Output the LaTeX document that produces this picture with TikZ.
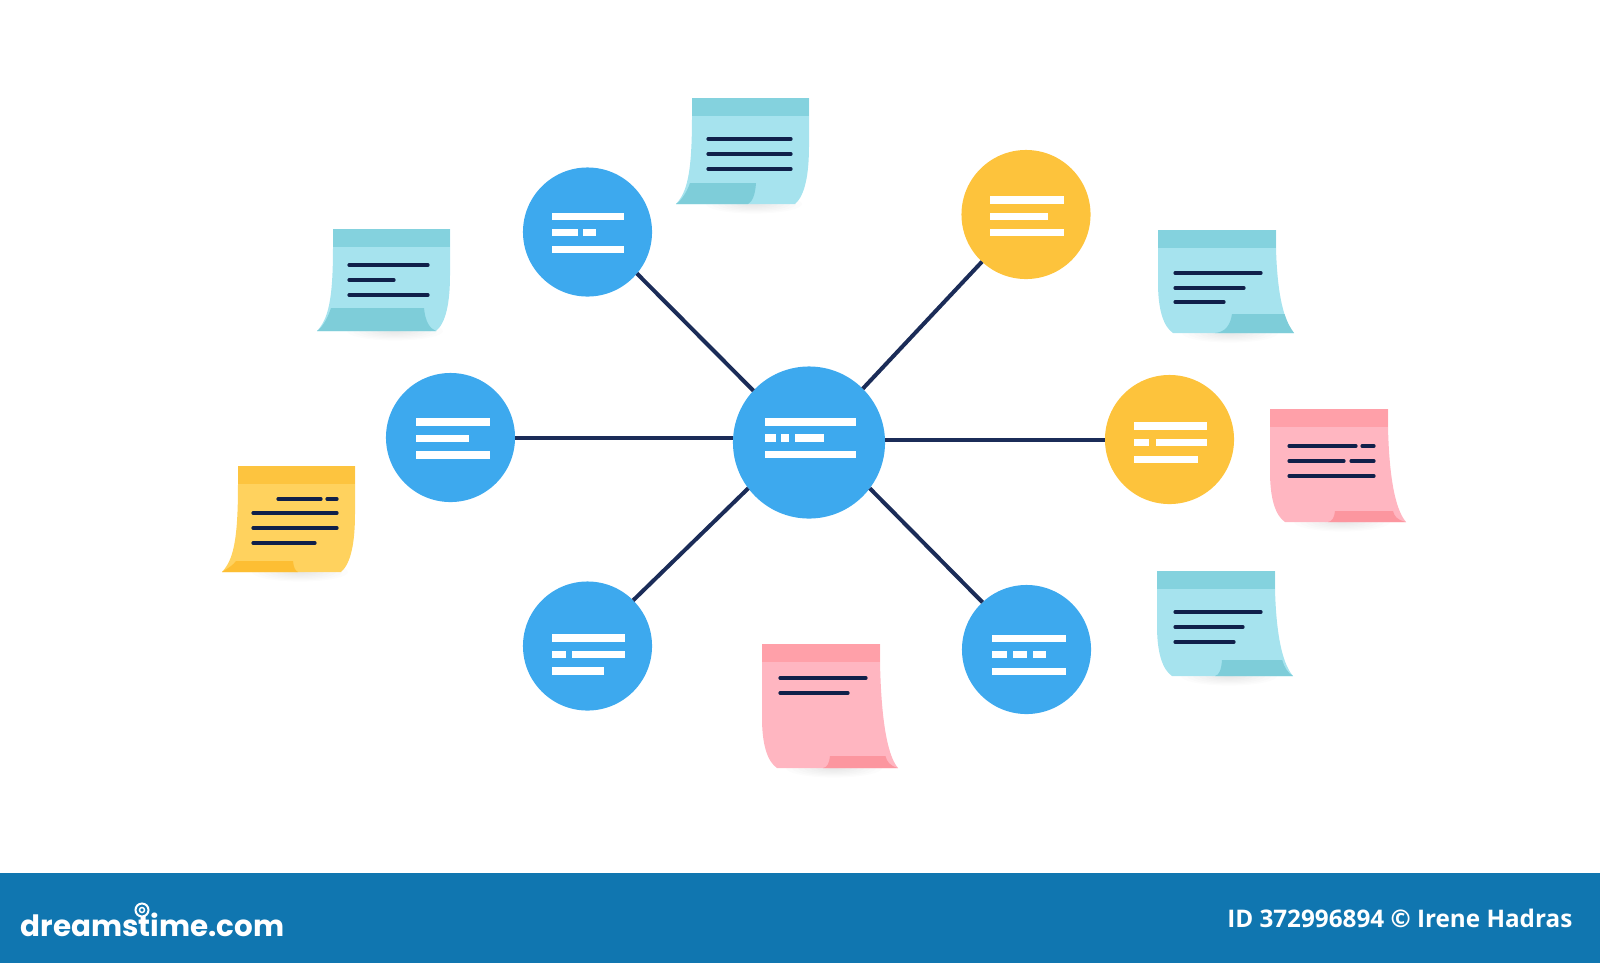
\documentclass[tikz,border=0pt]{standalone}
\usepackage{fontspec}
\setmainfont{Open Sans}
\newfontfamily\logofont{Poppins}
\definecolor{hubblue}{HTML}{3DA9EE}
\definecolor{sun}{HTML}{FDC33C}
\definecolor{navy}{HTML}{1B2C58}
\definecolor{ink}{HTML}{10204A}
\definecolor{banner}{HTML}{1076B0}
\definecolor{aqua}{HTML}{A6E3EE}
\definecolor{aquaband}{HTML}{84D2DE}
\definecolor{aquaflap}{HTML}{7ECDD9}
\definecolor{rose}{HTML}{FFB6C1}
\definecolor{roseband}{HTML}{FFA0A9}
\definecolor{roseflap}{HTML}{FC969F}
\definecolor{gold}{HTML}{FFD25E}
\definecolor{goldband}{HTML}{FDC43F}
\definecolor{goldflap}{HTML}{FDBE33}

% x, y, height, flap height, flap x top, flap x bottom, colour
\newcommand{\noteleft}[7]{
    \begin{scope}[shift={(#1,#2)}]
        \foreach \i in {1,...,8}
            \fill[black, opacity=.012] (62,#3) ellipse ({\i*6} and {\i*1.2});
        \fill[#7] (0,0) -- (117,0) -- (117,{#3*.45}) .. controls (117,{#3*.72}) and (113,{#3*.92}) .. (103,#3)
            -- (-16,#3) .. controls (-5,{#3-12}) and (0,{#3-30}) .. (0,18) -- cycle;
        \fill[#7band] (0,0) rectangle (117,18);
        \fill[#7flap] (-2,{#3-#4}) -- (#5,{#3-#4})
            .. controls ({#5+(#6-#5)*.1},{#3-#4*.4}) and ({#5+(#6-#5)*.5},{#3-#4*.1}) .. (#6,#3)
            -- (-16,#3) .. controls (-10,{#3-4}) and (-5,{#3-#4*.6}) .. (-2,{#3-#4}) -- cycle;
    \end{scope}
}
\newcommand{\noteright}[7]{
    \begin{scope}[shift={(#1,#2)}]
        \foreach \i in {1,...,8}
            \fill[black, opacity=.012] (72,#3) ellipse ({\i*6} and {\i*1.2});
        \fill[#7] (0,0) -- (118,0) -- (118,18) .. controls (119,{#3*.55}) and (124,{#3-14}) .. (136,#3)
            -- (15,#3) .. controls (6,{#3-6}) and (0,{#3-22}) .. (0,{#3-50}) -- cycle;
        \fill[#7band] (0,0) rectangle (118,18);
        \fill[#7flap] (#5,{#3-#4}) -- ({118+#4*.45},{#3-#4}) .. controls ({118+#4*.6},{#3-#4*.5}) and ({118+#4*.8},{#3-#4*.2}) .. (136,#3)
            -- (#6,#3) .. controls ({#6+(#5-#6)*.6},{#3-#4*.05}) and ({#6+(#5-#6)*.9},{#3-#4*.4}) .. (#5,{#3-#4}) -- cycle;
    \end{scope}
}

\begin{document}
\begin{tikzpicture}
            [x=0.01cm, y=-0.01cm,
            dot/.style={circle, inner sep=0pt, outer sep=0pt, minimum size=1.29cm},
            bluedot/.style={dot, fill=hubblue},
            sundot/.style={dot, fill=sun},
            edge/.style={navy, line width=0.04cm},
            bar/.style={white, line width=0.075cm},
            nline/.style={ink, line width=0.032cm, line cap=round}]

            \useasboundingbox (0,0) rectangle (1600,963);

            % Sticky notes
            \noteleft{692}{98}{106}{21}{64}{56}{aqua}
            \noteleft{333}{229}{102}{23}{91}{103}{aqua}
            \noteleft{238}{466}{106}{11}{55}{60}{gold}
            \noteright{1158}{230}{103}{19}{74}{57}{aqua}
            \noteright{1270}{409}{113}{11}{65}{58}{rose}
            \noteright{1157}{571}{105}{16}{65}{58}{aqua}
            \noteright{762}{644}{124}{12}{68}{61}{rose}

            % Lines written on the notes
            \foreach \xa/\xb/\yy in {708/791/139, 708/791/154, 708/791/169,
                                     349/428/265, 349/394/280, 349/428/295,
                                     278/321/499, 327/337/499, 253/337/513, 253/337/528, 253/315/543,
                                     1175/1261/273, 1175/1244/288, 1175/1224/302,
                                     1289/1356/446, 1362/1374/446, 1289/1344/461, 1351/1374/461, 1289/1374/476,
                                     1175/1261/612, 1175/1243/627, 1175/1234/642,
                                     780/866/678, 780/848/693}
                \draw[nline] (\xa,\yy) -- (\xb,\yy);

            \node[bluedot, minimum size=1.52cm] (hub) at (809,442.5) {};
            \node[bluedot] (tl) at (587.5,232) {};
            \node[bluedot] (l) at (450.5,437.5) {};
            \node[bluedot] (bl) at (587.5,646) {};
            \node[bluedot] (br) at (1026.5,649.5) {};
            \node[sundot] (tr) at (1026,214.5) {};
            \node[sundot] (r) at (1169.5,439.5) {};

            \draw[edge] (hub.137) -- (tl.-40);
            \draw[edge] (hub.45) -- (tr.227);
            \draw[edge] (hub.217) -- (bl.45);
            \draw[edge] (hub.-37) -- (br.133);
            \draw[edge] (l.east) -- (l.east -| hub.west);
            \draw[edge] (r.west) -- (r.west -| hub.east);

            % White text bars in the circles
            \foreach \xa/\xb/\yy in {765/856/422, 765/776/438, 781/789/438, 795/824/438, 765/856/454.5,
                                     552/624/216.5, 552/578/232.5, 583/596/232.5, 552/624/249.5,
                                     990/1064/200, 990/1048/216.5, 990/1064/232.5,
                                     416/490/422, 416/469/438.5, 416/490/455,
                                     1134/1207/426, 1134/1149/442.5, 1156/1207/442.5, 1134/1198/459.5,
                                     552/625/638, 552/566/654.5, 572/625/654.5, 552/604/671,
                                     992/1066/638.5, 992/1007/654.5, 1013/1027/654.5, 1033/1046/654.5, 992/1066/671.5}
                \draw[bar] (\xa,\yy) -- (\xb,\yy);

            % Bottom banner
            \fill[banner] (0,873) rectangle (1600,963);
            \node[anchor=base west, inner sep=0pt, text=white, font=\logofont\bfseries\fontsize{8.35}{10}\selectfont] (logo) at (20,936) {dreamstime.com};
            \node[anchor=base east, inner sep=0pt, text=white, font=\bfseries\fontsize{6.9}{8}\selectfont] (credit) at (1573,927) {ID 372996894 © Irene Hadras};

            % Spiral over the i
            \draw[white, fill=banner, line width=0.02cm] (142,910) circle (6.5);
            \draw[white, line width=0.015cm] (142,910) circle (2.5);

        \end{tikzpicture}
\end{document}
